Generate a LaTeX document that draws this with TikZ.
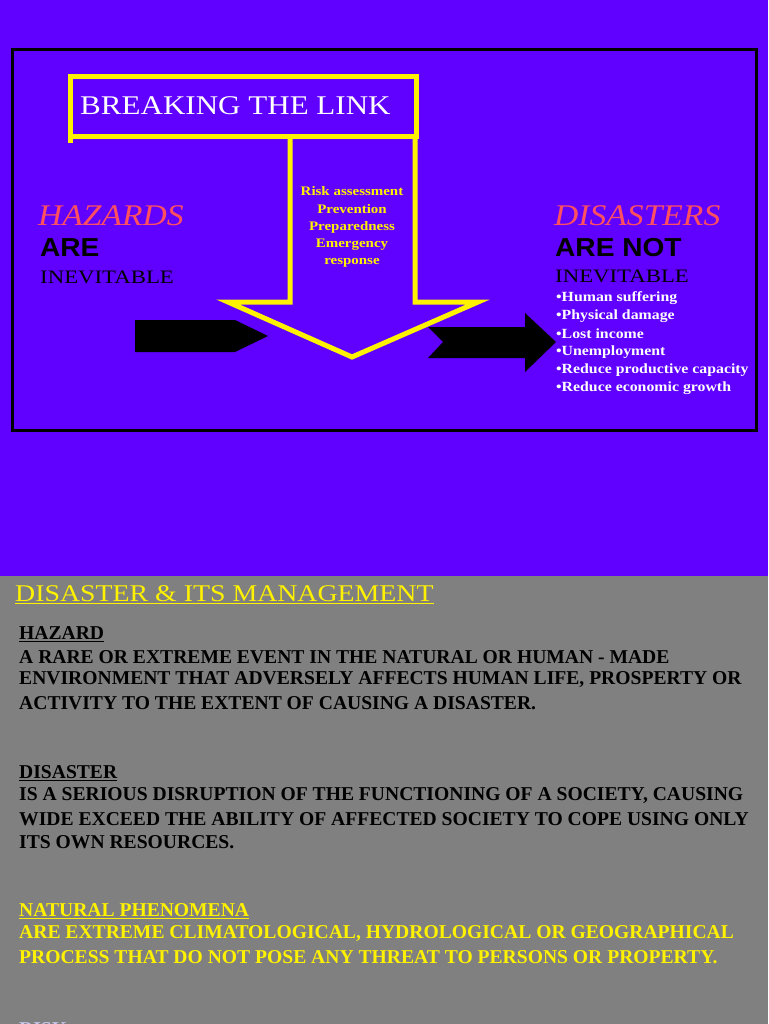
\documentclass[tikz,border=0pt]{standalone}
\usepackage{fontspec}
\setmainfont{Liberation Serif}
\newfontfamily\sansb{Liberation Sans}
\newcommand{\sx}[2]{\scalebox{#1}[1]{#2}}
\begin{document}
\begin{tikzpicture}[x=1pt,y=-1pt,
  yl/.style={draw=yellow,line width=5pt,line join=miter},
  txt/.style={anchor=west,inner sep=0pt,font=\bfseries\fontsize{19.6}{22}\selectfont},
  bul/.style={anchor=west,inner sep=0pt,text=white,font=\bfseries\fontsize{14}{15}\selectfont},
  mid/.style={inner sep=0pt,text=yellow,font=\bfseries\fontsize{13}{14}\selectfont}]
\definecolor{purp}{HTML}{6000FF}
\definecolor{gry}{HTML}{808080}
\definecolor{salmon}{HTML}{FF5060}
\definecolor{lav}{HTML}{C8C8F0}
\useasboundingbox (0,0) rectangle (768,1024);
\fill[purp] (0,0) rectangle (768,576);
\fill[gry] (0,576) rectangle (768,1024);
\draw[black,line width=3pt] (12,50) rectangle (756,430);
% yellow arrow outline
\draw[yl] (70,143) -- (70,77) -- (416,77) -- (416,137) -- (70,137);
\draw[yl] (290,137) -- (290,302) -- (228,302) -- (352,357) -- (478,302) -- (415,302) -- (415,137);
\node[anchor=west,inner sep=0pt,text=white,font=\fontsize{27}{30}\selectfont] (bl) at (80,106) {\sx{1.15}{BREAKING THE LINK}};
% black arrows
\fill[black] (135,320) -- (235,320) -- (268,336) -- (235,352) -- (135,352) -- cycle;
\fill[black] (428,327) -- (525,327) -- (525,313) -- (556,342) -- (525,372) -- (525,358) -- (428,358) -- (443,342) -- cycle;
\node[mid] (m1) at (352,191) {\sx{1.15}{Risk assessment}};
\node[mid] (m2) at (352,209) {\sx{1.15}{Prevention}};
\node[mid] (m3) at (352,227) {\sx{1.15}{Preparedness}};
\node[mid] (m4) at (352,245) {\sx{1.15}{Emergency}};
\node[mid] (m5) at (352,263) {\sx{1.15}{response}};
% left text
\node[anchor=west,inner sep=0pt,text=salmon,font=\itshape\fontsize{30}{32}\selectfont] (hz) at (38,216) {\sx{1.12}{HAZARDS}};
\node[anchor=west,inner sep=0pt,font=\sansb\bfseries\fontsize{26}{28}\selectfont] (ar) at (40,248) {\sx{1.08}{ARE}};
\node[anchor=west,inner sep=0pt,font=\fontsize{19}{21}\selectfont] (in1) at (40,277) {\sx{1.2}{INEVITABLE}};
% right text
\node[anchor=west,inner sep=0pt,text=salmon,font=\itshape\fontsize{30}{32}\selectfont] (ds) at (554,216) {\sx{1.12}{DISASTERS}};
\node[anchor=west,inner sep=0pt,font=\sansb\bfseries\fontsize{26}{28}\selectfont] (an) at (555,248) {\sx{1.08}{ARE NOT}};
\node[anchor=west,inner sep=0pt,font=\fontsize{19}{21}\selectfont] (in2) at (555,276) {\sx{1.2}{INEVITABLE}};
\node[bul] (b1) at (556,298) {\sx{1.13}{•Human suffering}};
\node[bul] (b2) at (556,316) {\sx{1.13}{•Physical damage}};
\node[bul] (b3) at (556,334) {\sx{1.13}{•Lost income}};
\node[bul] (b4) at (556,352) {\sx{1.13}{•Unemployment}};
\node[bul] (b5) at (556,370) {\sx{1.13}{•Reduce productive capacity}};
\node[bul] (b6) at (556,388) {\sx{1.13}{•Reduce economic growth}};
% bottom
\node[anchor=west,inner sep=0pt,text=yellow,font=\fontsize{24}{26}\selectfont] (t) at (15,595) {\underline{\sx{1.16}{DISASTER \& ITS MANAGEMENT}}};
\node[txt] (h0) at (19,634) {\underline{HAZARD}};
\node[txt] (h1) at (19,657) {A RARE OR EXTREME EVENT IN THE NATURAL OR HUMAN - MADE};
\node[txt] (h2) at (19,680) {ENVIRONMENT THAT ADVERSELY AFFECTS HUMAN LIFE, PROSPERTY OR};
\node[txt] (h3) at (19,703) {ACTIVITY TO THE EXTENT OF CAUSING A DISASTER.};
\node[txt] (d0) at (19,773) {\underline{DISASTER}};
\node[txt] (d1) at (19,796) {IS A SERIOUS DISRUPTION OF THE FUNCTIONING OF A SOCIETY, CAUSING};
\node[txt] (d2) at (19,819) {WIDE EXCEED THE ABILITY OF AFFECTED SOCIETY TO COPE USING ONLY};
\node[txt] (d3) at (19,842) {ITS OWN RESOURCES.};
\node[txt,text=yellow] (n0) at (19,911) {\underline{NATURAL PHENOMENA}};
\node[txt,text=yellow] (n1) at (19,934) {ARE EXTREME CLIMATOLOGICAL, HYDROLOGICAL OR GEOGRAPHICAL};
\node[txt,text=yellow] (n2) at (19,957) {PROCESS THAT DO NOT POSE ANY THREAT TO PERSONS OR PROPERTY.};
\node[txt,text=lav] (r0) at (19,1029) {RISK};
\end{tikzpicture}
\end{document}
